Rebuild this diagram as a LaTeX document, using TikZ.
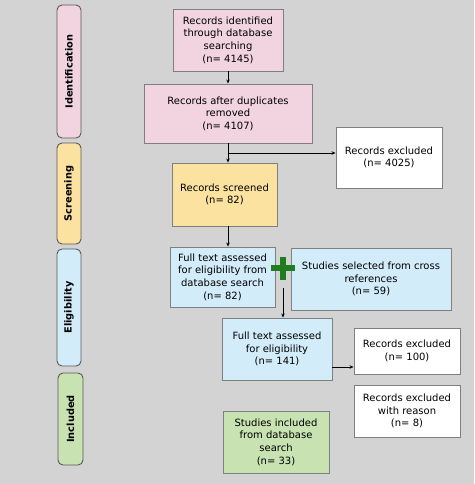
\documentclass[tikz,border=0pt]{standalone}
\usepackage{fontspec}
\setmainfont{DejaVu Sans}
\usepackage{xcolor}
\usetikzlibrary{arrows.meta, positioning}

\definecolor{panel}{HTML}{D3D3D3}
\definecolor{edge}{HTML}{7F7F7F}
\definecolor{pinkfill}{HTML}{F1D4DF}
\definecolor{yellowfill}{HTML}{FCE2A0}
\definecolor{bluefill}{HTML}{D2ECFA}
\definecolor{greenfill}{HTML}{C8E2B1}
\definecolor{plusgreen}{HTML}{1F7D1F}

\begin{document}
\begin{tikzpicture}[x=1pt, y=-1pt,
  box/.style={draw=edge, line width=0.9pt, align=center, inner sep=2pt,
              font=\fontsize{10}{12.6}\selectfont},
  phase/.style={draw=edge!70!black, line width=0.9pt, rounded corners=5pt,
                minimum width=24pt, inner sep=0pt},
  phaselabel/.style={rotate=90, font=\fontsize{9.8}{11}\selectfont\bfseries},
  arr/.style={-{Stealth[length=4pt, width=3.5pt]}, line width=0.9pt},
  plusbar/.style={plusgreen, line width=6pt}
]
  \fill[panel] (0,0) rectangle (474,484);
  \useasboundingbox (0,0) rectangle (474,484);

  % phase bars on the left
  \node[phase, fill=pinkfill, minimum height=133pt] (sideid) at (69,71.5) {};
  \node[phaselabel] at (sideid) {Identification};
  \node[phase, fill=yellowfill, minimum height=101pt] (sidescr) at (69,193.5) {};
  \node[phaselabel] at (sidescr) {Screening};
  \node[phase, fill=bluefill, minimum height=117pt] (sideel) at (69,307.5) {};
  \node[phaselabel] at (sideel) {Eligibility};
  \node[phase, fill=greenfill, minimum width=25pt, minimum height=92pt] (sideinc) at (70.5,419) {};
  \node[phaselabel] at (sideinc) {Included};

  % flow boxes
  \node[box, fill=pinkfill, minimum width=110pt, minimum height=62pt] (found) at (228,40)
    {Records identified\\through database\\searching\\(n= 4145)};
  \node[box, fill=pinkfill, minimum width=168pt, minimum height=59pt] (dedup) at (228,113.5)
    {Records after duplicates\\removed\\(n= 4107)};
  \node[box, fill=white, minimum width=106pt, minimum height=61pt] (excla) at (389,157.5)
    {Records excluded\\(n= 4025)};
  \node[box, fill=yellowfill, minimum width=105pt, minimum height=63pt] (screened) at (224.5,194.5)
    {Records screened\\(n= 82)};
  \node[box, fill=bluefill, minimum width=105pt, minimum height=60pt] (fulldb) at (222.5,277)
    {Full text assessed\\for eligibility from\\database search\\(n= 82)};
  \node[box, fill=bluefill, minimum width=160pt, minimum height=62pt] (crossref) at (371,279)
    {Studies selected from cross\\references\\(n= 59)};
  \node[box, fill=bluefill, minimum width=110pt, minimum height=62pt] (fulltext) at (277,349)
    {Full text assessed\\for eligibility\\(n= 141)};
  \node[box, fill=white, minimum width=106pt, minimum height=46pt] (exclb) at (407,351)
    {Records excluded\\(n= 100)};
  \node[box, fill=white, minimum width=106pt, minimum height=52pt] (exclc) at (407,411)
    {Records excluded\\with reason\\(n= 8)};
  \node[box, fill=greenfill, minimum width=106pt, minimum height=62pt] (included) at (276,442)
    {Studies included\\from database\\search\\(n= 33)};

  % green plus between the two eligibility boxes
  \coordinate (plus) at (283,268);
  \draw[plusbar] ([xshift=-12pt]plus) -- ([xshift=12pt]plus);
  \draw[plusbar] ([yshift=-11.5pt]plus) -- ([yshift=11.5pt]plus);

  % connectors
  \coordinate (split) at (228,153);
  \coordinate (mergeend) at (283,288);
  \coordinate (outb) at (332,367);
  \draw[arr] (found) -- (dedup);
  \draw[arr] (dedup.south -| split) -- (screened.north -| split);
  \draw[arr] (split) -- (excla.west |- split);
  \draw[arr] (screened.south -| split) -- (fulldb.north -| split);
  \draw[arr] (mergeend) -- (fulltext.north -| mergeend);
  \draw[arr] (outb) -- (exclb.west |- outb);
\end{tikzpicture}
\end{document}
